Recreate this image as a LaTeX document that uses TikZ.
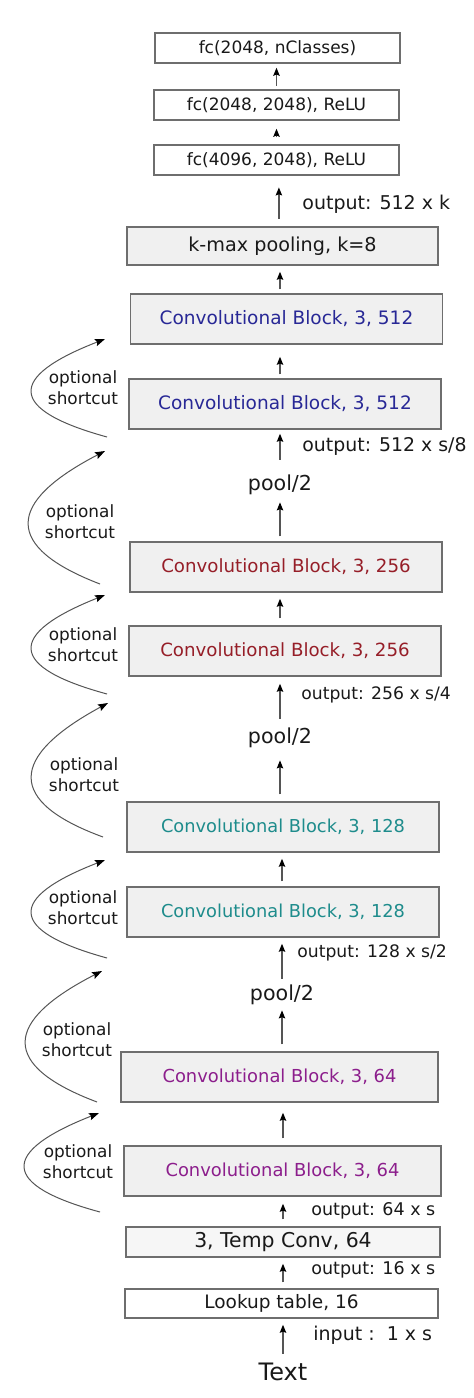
\documentclass[tikz,border=0pt]{standalone}
\usepackage{fontspec}
\setmainfont{DejaVu Sans}
\usetikzlibrary{arrows.meta}
\definecolor{cblue}{RGB}{40,40,150}
\definecolor{cred}{RGB}{150,30,40}
\definecolor{cteal}{RGB}{30,140,140}
\definecolor{cpurple}{RGB}{140,30,140}
\definecolor{boxline}{RGB}{110,110,110}
\definecolor{boxfill}{RGB}{240,240,240}
\definecolor{tempfill}{RGB}{246,246,246}
\definecolor{arrowline}{RGB}{85,85,85}
\definecolor{txt}{RGB}{25,25,25}
\newcommand{\fsz}[2]{\fontsize{#1pt}{#2pt}\selectfont}
\tikzset{
  box/.style={draw=boxline, line width=0.75pt, inner sep=0pt, text=txt},
  fcbox/.style={box, fill=white, minimum width=122.5pt, minimum height=15pt, font=\fsz{8.5}{10}},
  kbox/.style={box, fill=boxfill, minimum width=155.5pt, minimum height=19pt, font=\fsz{9.6}{11}},
  conv/.style={box, fill=boxfill, minimum width=156pt, minimum height=25pt},
  tempbox/.style={box, fill=tempfill, minimum width=157pt, minimum height=15pt, font=\fsz{10.2}{12}},
  lookbox/.style={box, fill=white, minimum width=156.5pt, minimum height=14.5pt, font=\fsz{9.25}{11}},
  outlbl/.style={anchor=west, inner sep=0pt, text=txt},
  poollbl/.style={inner sep=0pt, text=txt, font=\fsz{10.3}{12}},
  sclbl/.style={inner sep=0pt, align=center, text=txt, font=\fsz{8.45}{10.5}},
  arr/.style={draw=arrowline, line width=0.6pt, -{Stealth[length=4pt,width=3.2pt,inset=0.6pt,color=black]}},
  sc/.style={draw=arrowline, line width=0.5pt, -{Stealth[length=5pt,width=3.6pt,inset=0.8pt,color=black]}}
}
\begin{document}
\begin{tikzpicture}[x=0.5pt,y=-0.5pt]
\useasboundingbox (0,0) rectangle (474,1398);
% boxes
\node[fcbox] (fc3) at (277.5,48) {fc(2048, nClasses)};
\node[fcbox] (fc2) at (276.5,105) {fc(2048, 2048), ReLU};
\node[fcbox] (fc1) at (276.5,160) {fc(4096, 2048), ReLU};
\node[kbox] (kmax) at (282.5,246) {k-max pooling, k=8};
\node[conv, text=cblue, font=\fsz{9.25}{11}] (c512a) at (286.5,319) {Convolutional Block, 3, 512};
\node[conv, text=cblue, font=\fsz{9.25}{11}] (c512b) at (285,404) {Convolutional Block, 3, 512};
\node[conv, text=cred, font=\fsz{9.1}{11}] (c256a) at (286,567) {Convolutional Block, 3, 256};
\node[conv, text=cred, font=\fsz{9.1}{11}] (c256b) at (285,651) {Convolutional Block, 3, 256};
\node[conv, text=cteal, font=\fsz{8.9}{11}] (c128a) at (283,827) {Convolutional Block, 3, 128};
\node[conv, text=cteal, font=\fsz{8.9}{11}] (c128b) at (283,912) {Convolutional Block, 3, 128};
\node[conv, text=cpurple, font=\fsz{8.95}{11}, minimum width=158.5pt] (c64a) at (279.5,1077) {Convolutional Block, 3, 64};
\node[conv, text=cpurple, font=\fsz{8.95}{11}, minimum width=158.5pt] (c64b) at (282.5,1171) {Convolutional Block, 3, 64};
\node[tempbox] (temp) at (283,1242) {3, Temp Conv, 64};
\node[lookbox] (look) at (281.5,1303.5) {Lookup table, 16};
\node[inner sep=0pt, text=txt, font=\fsz{12}{14}] (txtin) at (283,1372) {Text};
% pool labels
\node[poollbl] (pool1) at (280,485) {pool/2};
\node[poollbl] (pool2) at (280,738) {pool/2};
\node[poollbl] (pool3) at (282,995) {pool/2};
% output labels
\node[outlbl, font=\fsz{9.5}{11}] (o1) at (302,204) {output: 512 x k};
\node[outlbl, font=\fsz{9.45}{11}] (o2) at (302,446) {output: 512 x s/8};
\node[outlbl, font=\fsz{8.6}{10}] (o3) at (301,695) {output: 256 x s/4};
\node[outlbl, font=\fsz{8.6}{10}] (o4) at (297,953) {output: 128 x s/2};
\node[outlbl, font=\fsz{8.75}{10}] (o5) at (311,1211) {output: 64 x s};
\node[outlbl, font=\fsz{8.75}{10}] (o6) at (311,1270) {output: 16 x s};
\node[outlbl, font=\fsz{9.5}{11}] (o7) at (313,1335) {input :\ \ 1 x s};
% main arrows
\draw[arr, shorten <=1.65pt, shorten >=2pt] (fc2.north) -- (fc2.north |- fc3.south);
\draw[arr, shorten <=3.5pt, shorten >=4pt] (fc1.north) -- (fc1.north |- fc2.south);
\draw[arr, shorten <=3.7pt, shorten >=5.85pt] ([xshift=1.2pt]fc1.south |- kmax.north) -- ([xshift=1.2pt]fc1.south);
\draw[arr, shorten <=2pt, shorten >=3pt] (c512a.north -| pool1) -- (kmax.south -| pool1);
\draw[arr, shorten <=2pt, shorten >=6pt] (c512b.north -| pool1) -- (c512a.south -| pool1);
\draw[arr, shorten <=7.5pt, shorten >=2pt] (pool1.north) -- (c512b.south -| pool1);
\draw[arr, shorten <=2.5pt, shorten >=3.5pt] (c256a.north -| pool1) -- (pool1.south);
\draw[arr, shorten <=3.5pt, shorten >=3pt] (c256b.north -| pool2) -- (c256a.south -| pool2);
\draw[arr, shorten <=4.5pt, shorten >=3.5pt] (pool2.north) -- (c256b.south -| pool2);
\draw[arr, shorten <=3.5pt, shorten >=6pt] (c128a.north -| pool2) -- (pool2.south);
\draw[arr, shorten <=2.5pt, shorten >=3pt] (c128b.north -| pool3) -- (c128a.south -| pool3);
\draw[arr, shorten <=3pt, shorten >=3pt] (pool3.north) -- (c128b.south -| pool3);
\draw[arr, shorten <=3.5pt, shorten >=2.5pt] (c64a.north -| pool3) -- (pool3.south);
\draw[arr, shorten <=3.5pt, shorten >=5pt] (c64b.north -| txtin) -- (c64a.south -| txtin);
\draw[arr, shorten <=3.5pt, shorten >=3.5pt] (temp.north -| txtin) -- (c64b.south -| txtin);
\draw[arr, shorten <=3pt, shorten >=3pt] (look.north -| txtin) -- (temp.south -| txtin);
\draw[arr, shorten <=4.5pt, shorten >=3pt] (txtin.north) -- (look.south -| txtin);
% shortcut labels
\node[sclbl] (l1) at (83,388) {optional\\shortcut};
\node[sclbl] (l2) at (80,522) {optional\\shortcut};
\node[sclbl] (l3) at (83,645) {optional\\shortcut};
\node[sclbl] (l4) at (84,775) {optional\\shortcut};
\node[sclbl] (l5) at (83,908) {optional\\shortcut};
\node[sclbl] (l6) at (77,1040) {optional\\shortcut};
\node[sclbl] (l7) at (78,1162) {optional\\shortcut};
% shortcut curves
\coordinate (s1b) at (107,437);  \coordinate (s1t) at (105,339);
\coordinate (s2b) at (100,584);  \coordinate (s2t) at (105,451);
\coordinate (s3b) at (107,694);  \coordinate (s3t) at (105,595);
\coordinate (s4b) at (103,837);  \coordinate (s4t) at (108,703);
\coordinate (s5b) at (107,958);  \coordinate (s5t) at (105,860);
\coordinate (s6b) at (97,1102);  \coordinate (s6t) at (102,971);
\coordinate (s7b) at (100,1212); \coordinate (s7t) at (99,1113);
\draw[sc] (s1b) .. controls (7.7,409.7) and (7,377) .. (s1t);
\draw[sc] (s2b) .. controls (3.7,547) and (5.3,502.7) .. (s2t);
\draw[sc] (s3b) .. controls (7.7,667) and (7,634) .. (s3t);
\draw[sc] (s4b) .. controls (6.7,801.7) and (8.3,757) .. (s4t);
\draw[sc] (s5b) .. controls (7.7,930.7) and (7,898) .. (s5t);
\draw[sc] (s6b) .. controls (0.7,1065.7) and (2.3,1022) .. (s6t);
\draw[sc] (s7b) .. controls (0.3,1185) and (0,1152) .. (s7t);
\end{tikzpicture}
\end{document}
